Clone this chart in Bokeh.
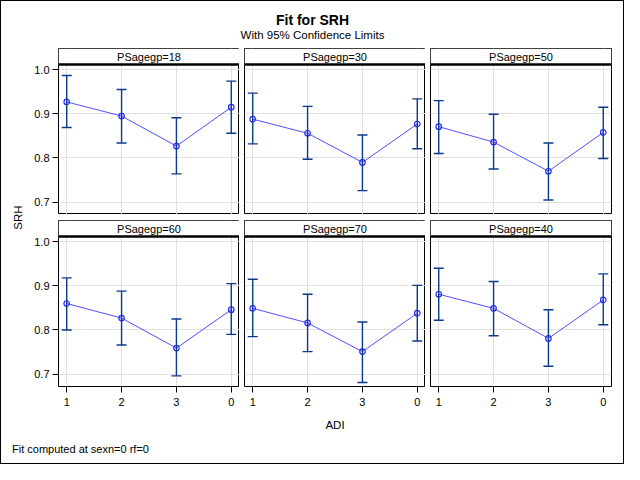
from bokeh.plotting import figure
from bokeh.layouts import row, column
from bokeh.models import (Range1d, LinearAxis, FixedTicker, Grid, Whisker, TeeHead,
                          ColumnDataSource, PrintfTickFormatter)
from bokeh.core.properties import value
from bokeh.embed import file_html
from bokeh.resources import INLINE

# ---------------- data ----------------
ADI = ["1", "2", "3", "0"]
groups = ["18", "30", "50", "60", "70", "40"]

fit_18 = [0.927, 0.895, 0.827, 0.915]
lower_18 = [0.869, 0.834, 0.764, 0.856]
upper_18 = [0.987, 0.955, 0.891, 0.974]

fit_30 = [0.888, 0.856, 0.790, 0.877]
lower_30 = [0.832, 0.797, 0.726, 0.821]
upper_30 = [0.947, 0.917, 0.852, 0.934]

fit_50 = [0.871, 0.836, 0.770, 0.858]
lower_50 = [0.810, 0.775, 0.705, 0.799]
upper_50 = [0.930, 0.899, 0.834, 0.915]

fit_60 = [0.860, 0.827, 0.759, 0.846]
lower_60 = [0.800, 0.766, 0.696, 0.790]
upper_60 = [0.918, 0.888, 0.825, 0.905]

fit_70 = [0.849, 0.816, 0.751, 0.838]
lower_70 = [0.785, 0.751, 0.681, 0.775]
upper_70 = [0.915, 0.881, 0.818, 0.901]

fit_40 = [0.881, 0.849, 0.781, 0.868]
lower_40 = [0.822, 0.787, 0.718, 0.812]
upper_40 = [0.940, 0.910, 0.846, 0.927]

y_ticks = [0.7, 0.8, 0.9, 1.0]

series = {
    "18": (fit_18, lower_18, upper_18),
    "30": (fit_30, lower_30, upper_30),
    "50": (fit_50, lower_50, upper_50),
    "60": (fit_60, lower_60, upper_60),
    "70": (fit_70, lower_70, upper_70),
    "40": (fit_40, lower_40, upper_40),
}

# ---------------- style ----------------
FONT = "Liberation Sans"
LINE_C = "#5050ff"
MARK_C = "#2a2aff"
BAR_C = "#0b3a8c"
GRID_C = "#e0e0e0"
TXT_C = "#000000"

Y_MIN, Y_PLOT_TOP, Y_MAX = 0.672, 1.011, 1.048
X_PAD = 0.15
FRAME_W, FRAME_H = 181, 166


def blank(w, h, xr, yr):
    f = figure(width=w, height=h, x_range=xr, y_range=yr, output_backend="svg",
               toolbar_location=None, x_axis_type=None, y_axis_type=None,
               min_border=0, outline_line_color=None)
    f.xgrid.visible = False
    f.ygrid.visible = False
    return f


def panel(g, col, rw):
    fit, lo, hi = series[g]
    xs = list(range(len(ADI)))
    p = figure(frame_width=FRAME_W, frame_height=FRAME_H,
               x_range=Range1d(-X_PAD, len(ADI) - 1 + X_PAD),
               y_range=Range1d(Y_MIN, Y_MAX),
               output_backend="svg", toolbar_location=None,
               x_axis_type=None, y_axis_type=None,
               min_border_left=28 if col == 0 else 5,
               min_border_right=12 if col == 2 else 0,
               min_border_top=0 if rw == 0 else 6,
               min_border_bottom=0 if rw == 0 else 28,
               outline_line_color="black", outline_line_width=1,
               background_fill_color="white", border_fill_color="white")
    xt = FixedTicker(ticks=xs, minor_ticks=[])
    yt = FixedTicker(ticks=y_ticks, minor_ticks=[])
    p.add_layout(Grid(dimension=0, ticker=xt, grid_line_color=GRID_C, grid_line_width=1))
    p.add_layout(Grid(dimension=1, ticker=yt, grid_line_color=GRID_C, grid_line_width=1))

    if col == 0:
        ya = LinearAxis(ticker=yt, formatter=PrintfTickFormatter(format="%.1f"),
                        axis_line_color=None, major_tick_out=6, major_tick_in=0,
                        minor_tick_line_color=None, major_label_standoff=3,
                        major_label_text_font=FONT, major_label_text_font_size="11px",
                        major_label_text_color=TXT_C, major_tick_line_color="black")
        p.add_layout(ya, "left")
    if rw == 1:
        xa = LinearAxis(ticker=xt, axis_line_color=None, major_tick_out=6, major_tick_in=0,
                        minor_tick_line_color=None, major_label_standoff=5,
                        major_label_overrides={i: ADI[i] for i in xs},
                        major_label_text_font=FONT, major_label_text_font_size="11px",
                        major_label_text_color=TXT_C, major_tick_line_color="black")
        p.add_layout(xa, "below")

    src = ColumnDataSource(dict(x=xs, fit=fit, lo=lo, hi=hi))
    p.add_layout(Whisker(base="x", lower="lo", upper="hi", source=src,
                         line_color=BAR_C, line_width=1.4,
                         lower_head=TeeHead(size=10, line_color=BAR_C, line_width=1.4),
                         upper_head=TeeHead(size=10, line_color=BAR_C, line_width=1.4),
                         level="glyph"))
    p.line("x", "fit", source=src, line_color=LINE_C, line_width=1)
    p.scatter("x", "fit", source=src, marker="circle", size=5.5, fill_color=None,
              line_color=MARK_C, line_width=1.2)

    # header strip
    x0, x1 = -X_PAD, len(ADI) - 1 + X_PAD
    p.quad(left=[x0], right=[x1], bottom=[Y_PLOT_TOP], top=[Y_MAX],
           fill_color="white", line_color=None)
    p.hspan(y=[Y_PLOT_TOP], line_color="black", line_width=2.5)
    p.text(x=[(x0 + x1) / 2], y=[(Y_PLOT_TOP + Y_MAX) / 2], text=[f"PSagegp={g}"],
           text_font=value(FONT), text_font_size="11px", text_color=TXT_C,
           text_align="center", text_baseline="middle")
    return p


# ---------------- layout ----------------
W = 622
top = blank(W, 47, Range1d(0, W), Range1d(47, 0))
top.text(x=[311], y=[18.5], text=["Fit for SRH"], text_font=value(FONT),
         text_font_size="14px", text_font_style="bold", text_color=TXT_C,
         text_align="center", text_baseline="middle")
top.text(x=[311], y=[33], text=["With 95% Confidence Limits"], text_font=value(FONT),
         text_font_size="11.5px", text_color=TXT_C,
         text_align="center", text_baseline="middle")

yl = blank(29, 366, Range1d(0, 29), Range1d(366, 0))
yl.text(x=[16.5], y=[169], text=["SRH"], text_font=value(FONT), text_font_size="11.5px",
        text_color=TXT_C, text_align="center", text_baseline="middle", angle=1.5707963)

r1 = row(panel("18", 0, 0), panel("30", 1, 0), panel("50", 2, 0), spacing=0)
r2 = row(panel("60", 0, 1), panel("70", 1, 1), panel("40", 2, 1), spacing=0)
mid = row(yl, column(r1, r2, spacing=0), spacing=0)

bot = blank(W, 49, Range1d(0, W), Range1d(49, 0))
bot.text(x=[333.5], y=[10.5], text=["ADI"], text_font=value(FONT), text_font_size="11.5px",
         text_color=TXT_C, text_align="center", text_baseline="middle")
bot.text(x=[10.5], y=[34.5], text=["Fit computed at sexn=0 rf=0"], text_font=value(FONT),
         text_font_size="11px", text_color=TXT_C, text_align="left", text_baseline="middle")

p = column(top, mid, bot, spacing=0, styles={"border": "1px solid black"})

open("out.html", "w").write(file_html(p, INLINE))
